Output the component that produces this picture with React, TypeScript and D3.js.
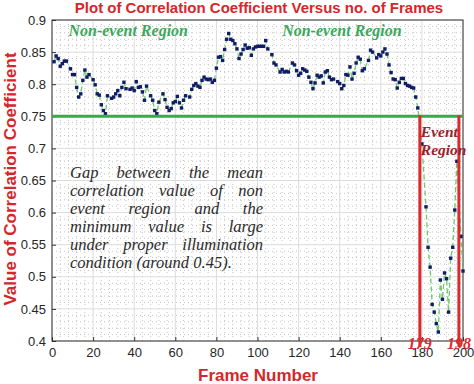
import React, { useEffect, useRef } from "react";
import * as d3 from "d3";

const frames = [1,2,3,4,5,6,7,9,10,11,12,13,14,15,16,17,18,20,21,22,23,24,25,26,27,29,30,31,32,33,34,35,36,38,39,40,41,42,43,44,45,46,48,49,50,51,52,54,55,56,57,58,59,60,61,62,63,64,65,67,68,69,70,71,72,73,74,75,76,77,78,79,80,81,82,83,84,85,86,87,88,89,90,91,92,93,94,95,96,97,98,99,100,101,102,103,104,105,107,108,109,111,112,113,114,115,117,118,119,120,121,122,123,124,125,126,127,128,129,130,131,132,133,134,135,136,137,139,140,141,142,143,144,145,146,147,148,149,150,151,152,154,155,156,158,159,160,161,162,163,164,165,166,167,168,169,170,171,172,173,174,175,176,177,178,180,182,183,184,185,186,187,188,189,190,191,192,193,194,195,196,197,199,200];
const values = [0.835,0.844,0.840,0.828,0.832,0.836,0.836,0.824,0.815,0.815,0.795,0.780,0.785,0.806,0.822,0.811,0.815,0.807,0.799,0.785,0.783,0.768,0.759,0.754,0.782,0.778,0.780,0.785,0.790,0.782,0.795,0.803,0.793,0.792,0.794,0.790,0.804,0.795,0.796,0.788,0.775,0.797,0.782,0.775,0.759,0.754,0.772,0.785,0.776,0.764,0.759,0.762,0.771,0.773,0.781,0.771,0.763,0.775,0.782,0.780,0.792,0.798,0.801,0.797,0.795,0.806,0.811,0.808,0.807,0.808,0.803,0.806,0.825,0.842,0.843,0.837,0.854,0.870,0.879,0.870,0.868,0.863,0.855,0.840,0.847,0.854,0.861,0.856,0.857,0.845,0.855,0.858,0.859,0.859,0.859,0.859,0.868,0.855,0.846,0.833,0.830,0.819,0.823,0.819,0.820,0.819,0.833,0.830,0.821,0.814,0.817,0.824,0.822,0.820,0.811,0.803,0.793,0.802,0.814,0.811,0.813,0.802,0.819,0.821,0.811,0.807,0.808,0.804,0.801,0.793,0.798,0.815,0.814,0.827,0.808,0.817,0.833,0.842,0.839,0.821,0.824,0.837,0.853,0.850,0.841,0.846,0.844,0.850,0.855,0.847,0.830,0.818,0.808,0.807,0.794,0.803,0.809,0.809,0.801,0.798,0.797,0.795,0.794,0.780,0.763,0.707,0.609,0.546,0.515,0.457,0.445,0.427,0.414,0.495,0.465,0.506,0.497,0.445,0.529,0.546,0.604,0.680,0.563,0.509];

const xTicks = [0, 20, 40, 60, 80, 100, 120, 140, 160, 180, 200];
const yTicks = [0.4, 0.45, 0.5, 0.55, 0.6, 0.65, 0.7, 0.75, 0.8, 0.85, 0.9];
const yTickLabels = ["0.4", "0.45", "0.5", "0.55", "0.6", "0.65", "0.7", "0.75", "0.8", "0.85", "0.9"];
const threshold = 0.75;
const eventBounds = [179, 198];
const regionLabels = ["Non-event Region", "Non-event Region"];
const regionLabelFrames = [8, 112];
const eventLabel = ["Event", "Region"];
const noteLines = [
  "Gap between the mean",
  "correlation value of non",
  "event region and the",
  "minimum value is large",
  "under proper illumination",
  "condition (around 0.45).",
];
const title = "Plot of Correlation Coefficient Versus no. of Frames";
const xLabel = "Frame Number";
const yLabel = "Value of Correlation Coefficient";

export default function App() {
  const ref = useRef<SVGSVGElement>(null);
  useEffect(() => {
    const svg = d3.select(ref.current);
    svg.selectAll("*").remove();
    const W = 474, H = 384;
    const x = d3.scaleLinear().domain([0, 200]).range([52, 463]);
    const y = d3.scaleLinear().domain([0.4, 0.9]).range([341, 20]);
    const [x0, x1] = x.range();
    const [y0, y1] = y.range();

    svg.append("rect").attr("width", W).attr("height", H).attr("fill", "#fff");

    // minor grid
    const minorX = d3.range(0, 201, 4).filter((v) => v % 20 !== 0);
    const minorY = d3.range(40, 91, 1).filter((v) => v % 5 !== 0).map((v) => v / 100);
    const g = svg.append("g");
    g.selectAll(".mx").data(minorX).join("line")
      .attr("x1", (d) => x(d)).attr("x2", (d) => x(d)).attr("y1", y1).attr("y2", y0)
      .attr("stroke", "#c4c4c4").attr("stroke-width", 1).attr("stroke-dasharray", "1,3");
    g.selectAll(".my").data(minorY).join("line")
      .attr("y1", (d) => y(d)).attr("y2", (d) => y(d)).attr("x1", x0).attr("x2", x1)
      .attr("stroke", "#c4c4c4").attr("stroke-width", 1).attr("stroke-dasharray", "1,3");
    // major grid
    g.selectAll(".Mx").data(xTicks).join("line")
      .attr("x1", (d) => x(d)).attr("x2", (d) => x(d)).attr("y1", y1).attr("y2", y0)
      .attr("stroke", "#dcdcdc").attr("stroke-width", 1);
    g.selectAll(".My").data(yTicks).join("line")
      .attr("y1", (d) => y(d)).attr("y2", (d) => y(d)).attr("x1", x0).attr("x2", x1)
      .attr("stroke", "#dcdcdc").attr("stroke-width", 1);

    // axes
    const font = "'Liberation Sans', Arial, sans-serif";
    const serif = "'Liberation Serif', 'Times New Roman', serif";
    const ax = svg.append("g").attr("transform", `translate(0,${y0})`)
      .call(d3.axisBottom(x).tickValues(xTicks).tickSize(-4).tickPadding(7).tickFormat(d3.format("d")));
    const ay = svg.append("g").attr("transform", `translate(${x0},0)`)
      .call(d3.axisLeft(y).tickValues(yTicks).tickSize(-4).tickPadding(6)
        .tickFormat((d, i) => yTickLabels[i]));
    [ax, ay].forEach((a) => {
      a.select(".domain").remove();
      a.selectAll("line").attr("stroke", "#333");
      a.selectAll("text").attr("font-family", font).attr("font-size", 13).attr("fill", "#262626");
    });
    svg.append("rect").attr("x", x0).attr("y", y1).attr("width", x1 - x0).attr("height", y0 - y1)
      .attr("fill", "none").attr("stroke", "#333").attr("stroke-width", 1);

    // data
    const pts = frames.map((f, i) => [f, values[i]] as [number, number]);
    const line = d3.line<[number, number]>().x((d) => x(d[0])).y((d) => y(d[1]));
    svg.append("path").attr("d", line(pts)).attr("fill", "none")
      .attr("stroke", "#6cc96c").attr("stroke-width", 1.3).attr("stroke-dasharray", "5,3");
    svg.selectAll(".pt").data(pts).join("rect")
      .attr("x", (d) => x(d[0]) - 1.7).attr("y", (d) => y(d[1]) - 1.7)
      .attr("width", 3.4).attr("height", 3.4).attr("fill", "#101c66");

    // threshold
    svg.append("line").attr("x1", x0).attr("x2", x1).attr("y1", y(threshold)).attr("y2", y(threshold))
      .attr("stroke", "#2fae4e").attr("stroke-width", 3);
    // event lines
    svg.selectAll(".ev").data(eventBounds).join("line")
      .attr("x1", (d) => x(d)).attr("x2", (d) => x(d)).attr("y1", y(threshold) - 1).attr("y2", y0 + 6)
      .attr("stroke", "#dc2a2e").attr("stroke-width", 3);
    svg.selectAll(".evl").data(eventBounds).join("text")
      .attr("x", (d) => x(d)).attr("y", 349).attr("text-anchor", "middle")
      .attr("font-family", serif).attr("font-style", "italic").attr("font-weight", "bold")
      .attr("font-size", 16).attr("fill", "#dc2a2e").text((d) => String(d));

    // region labels
    svg.selectAll(".rl").data(regionLabels).join("text")
      .attr("x", (d, i) => x(regionLabelFrames[i])).attr("y", 36)
      .attr("font-family", serif).attr("font-style", "italic")
      .attr("font-weight", "bold").attr("font-size", 16).attr("fill", "#3aa85a").text((d) => d);
    svg.selectAll(".el").data(eventLabel).join("text")
      .attr("x", x(eventBounds[0]) + 1).attr("y", (d, i) => 137 + i * 18)
      .attr("font-family", serif).attr("font-style", "italic")
      .attr("font-weight", "bold").attr("font-size", 15.5).attr("fill", "#9a1f2c").text((d) => d);

    // justified note
    const noteLeft = 70, noteRight = 263;
    noteLines.forEach((ln, li) => {
      const words = ln.split(" ");
      const yy = 178 + li * 18;
      const nodes = words.map((w) =>
        svg.append("text").attr("y", yy).attr("font-family", serif).attr("font-style", "italic")
          .attr("font-size", 16.5).attr("fill", "#2a2a2a").text(w)
      );
      const widths = nodes.map((n) => (n.node() as SVGTextElement).getComputedTextLength());
      const total = d3.sum(widths);
      const last = li === noteLines.length - 1;
      const gap = last ? 4.2 : (noteRight - noteLeft - total) / (words.length - 1);
      let cx = noteLeft;
      nodes.forEach((n, i) => {
        n.attr("x", cx);
        cx += widths[i] + gap;
      });
    });

    // titles
    svg.append("text").attr("x", 259).attr("y", 13).attr("text-anchor", "middle")
      .attr("font-family", font).attr("font-weight", "bold").attr("font-size", 15)
      .attr("fill", "#d7262b").text(title);
    svg.append("text").attr("x", 258).attr("y", 381).attr("text-anchor", "middle")
      .attr("font-family", font).attr("font-weight", "bold").attr("font-size", 17)
      .attr("fill", "#d7262b").text(xLabel);
    svg.append("text").attr("transform", `translate(16,179) rotate(-90)`)
      .attr("text-anchor", "middle")
      .attr("font-family", font).attr("font-weight", "bold").attr("font-size", 17)
      .attr("fill", "#d7262b").text(yLabel);
  }, []);
  return (
    <svg ref={ref} width={474} height={384}
      style={{ position: "fixed", left: 0, top: 0, display: "block" }} />
  );
}
